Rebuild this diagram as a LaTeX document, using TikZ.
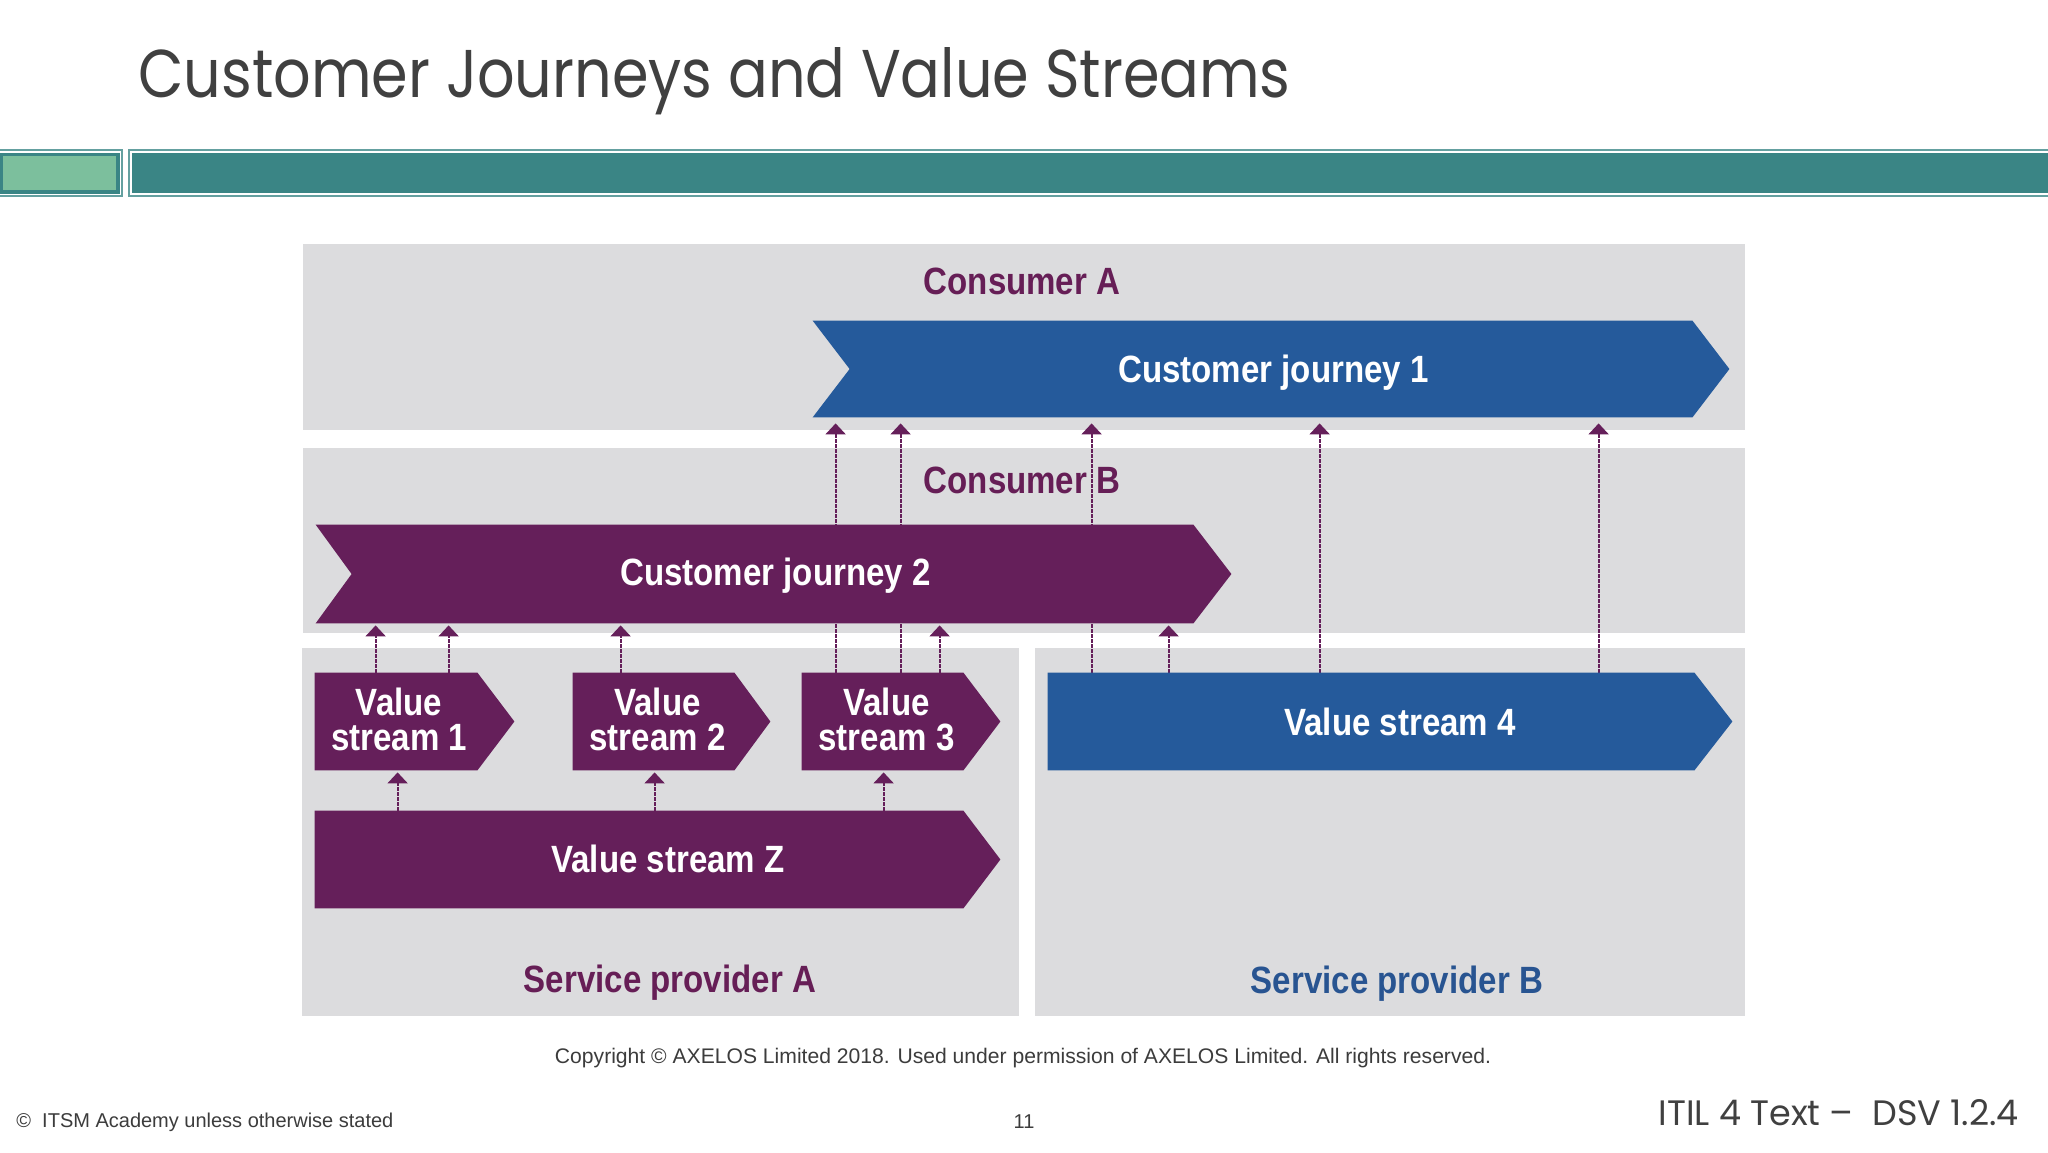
\documentclass[tikz,border=0pt]{standalone}
\usepackage{graphicx}
\usepackage{fontspec}
\setmainfont{Liberation Sans}
\newfontfamily\lblfont[FakeStretch=0.87]{Liberation Sans}
\newfontfamily\ttlfont{Poppins}
\usetikzlibrary{arrows.meta,calc}
\definecolor{teal1}{RGB}{58,133,133}
\definecolor{teal2}{RGB}{100,160,160}
\definecolor{green1}{RGB}{124,191,157}
\definecolor{panel}{RGB}{220,220,222}
\definecolor{cblue}{RGB}{37,90,155}
\definecolor{cpurp}{RGB}{101,31,90}
\definecolor{tpurp}{RGB}{102,30,86}
\definecolor{tblue}{RGB}{40,84,145}
\definecolor{ttl}{RGB}{64,64,64}
\definecolor{foot}{RGB}{60,60,60}
\pgfdeclarelayer{bg}\pgfdeclarelayer{arr}\pgfdeclarelayer{shp}
\pgfsetlayers{bg,arr,shp,main}
\begin{document}
\begin{tikzpicture}[x=0.5pt,y=-0.5pt,
  flow/.style={draw=cpurp, line width=1pt, dash pattern=on 1.6pt off 0.9pt, -{Triangle[width=10pt,length=5.5pt]}},
  body/.style={rectangle, inner sep=0pt, minimum height=48.5pt},
  panelbox/.style={rectangle, fill=panel, inner sep=0pt},
  wlbl/.style={text=white, font=\lblfont\bfseries\fontsize{19}{17.5}\selectfont, inner sep=0pt, anchor=base},
  plbl/.style={text=tpurp, font=\lblfont\bfseries\fontsize{19}{17.5}\selectfont, inner sep=0pt, anchor=base},
]
\useasboundingbox (0,0) rectangle (2048,1152);

% background and header bar
\begin{pgfonlayer}{bg}
\fill[white] (0,0) rectangle (2048,1152);
\fill[teal2] (0,149) rectangle (123,197);
\fill[white] (-2,151) rectangle (121,195);
\fill[teal1] (-2,152.5) rectangle (119.5,193.5);
\fill[green1] (3,156) rectangle (116,190);
\fill[teal2] (128,149) rectangle (2060,197);
\fill[white] (130,151) rectangle (2060,195);
\fill[teal1] (131.5,153) rectangle (2060,193);
\node[panelbox, minimum width=721pt, minimum height=93pt] (pA) at (1024,337) {};
\node[panelbox, minimum width=721pt, minimum height=92.5pt] (pB) at (1024,540.5) {};
\node[panelbox, minimum width=358.5pt, minimum height=184pt] (spA) at (660.5,832) {};
\node[panelbox, minimum width=355pt, minimum height=184pt] (spB) at (1390,832) {};
\end{pgfonlayer}

\node[anchor=base west, inner sep=0pt, text=ttl] (title) at (138,97)
  {\resizebox{576pt}{25pt}{\ttlfont Customer Journeys and Value Streams}};

% chevron bodies
\node[body, minimum width=439.5pt, minimum height=48pt] (cj1) at (1252.5,369) {};
\node[body, minimum width=438.5pt, minimum height=49pt] (cj2) at (754.5,574) {};
\node[body, minimum width=81pt] (vs1) at (396,721.5) {};
\node[body, minimum width=80.5pt] (vs2) at (653.5,721.5) {};
\node[body, minimum width=80.5pt] (vs3) at (882.5,721.5) {};
\node[body, minimum width=324pt] (vsz) at (639,859.5) {};
\node[body, minimum width=323pt] (vs4) at (1371,721.5) {};

\begin{pgfonlayer}{shp}
\fill[cblue] (cj1.north west) -- (cj1.north east) -- ($(cj1.east)+(37,0)$) -- (cj1.south east) -- (cj1.south west) -- ($(cj1.west)+(37,0)$) -- cycle;
\fill[cpurp] (cj2.north west) -- (cj2.north east) -- ($(cj2.east)+(38,0)$) -- (cj2.south east) -- (cj2.south west) -- ($(cj2.west)+(36,0)$) -- cycle;
\fill[cpurp] (vs1.north west) -- (vs1.north east) -- ($(vs1.east)+(37,0)$) -- (vs1.south east) -- (vs1.south west) -- cycle;
\fill[cpurp] (vs2.north west) -- (vs2.north east) -- ($(vs2.east)+(36,0)$) -- (vs2.south east) -- (vs2.south west) -- cycle;
\fill[cpurp] (vs3.north west) -- (vs3.north east) -- ($(vs3.east)+(37,0)$) -- (vs3.south east) -- (vs3.south west) -- cycle;
\fill[cpurp] (vsz.north west) -- (vsz.north east) -- ($(vsz.east)+(37,0)$) -- (vsz.south east) -- (vsz.south west) -- cycle;
\fill[cblue] (vs4.north west) -- (vs4.north east) -- ($(vs4.east)+(38,0)$) -- (vs4.south east) -- (vs4.south west) -- cycle;
\end{pgfonlayer}

% connectors
\begin{pgfonlayer}{arr}
\draw[flow] ($(vs3.north west)+(34,0)$) -- ($(cj1.south west)+(23,6)$);
\draw[flow] ($(vs3.north west)+(99,0)$) -- ($(cj1.south west)+(88,6)$);
\draw[flow] ($(vs4.north west)+(44,0)$) -- ($(cj1.south west)+(279,6)$);
\draw[flow] ($(vs4.north west)+(272,0)$) -- ($(cj1.south west)+(507,6)$);
\draw[flow] ($(vs4.north west)+(551,0)$) -- ($(cj1.south west)+(786,6)$);
\draw[flow] ($(vs1.north west)+(61,0)$) -- ($(cj2.south west)+(60,2)$);
\draw[flow] ($(vs1.north west)+(134,0)$) -- ($(cj2.south west)+(133,2)$);
\draw[flow] ($(vs2.north west)+(48,0)$) -- ($(cj2.south west)+(305,2)$);
\draw[flow] ($(vs3.north west)+(138,0)$) -- ($(cj2.south west)+(624,2)$);
\draw[flow] ($(vs4.north west)+(121,0)$) -- ($(cj2.south west)+(853,2)$);
\draw[flow] ($(vsz.north west)+(83,0)$) -- ($(vs1.south west)+(83,2)$);
\draw[flow] ($(vsz.north west)+(340,0)$) -- ($(vs2.south west)+(82,2)$);
\draw[flow] ($(vsz.north west)+(569,0)$) -- ($(vs3.south west)+(82,2)$);
\end{pgfonlayer}

% labels
\node[wlbl] (cj1t) at ($(cj1)+(21,13)$) {Customer journey 1};
\node[wlbl] (cj2t) at ($(cj2)+(21,11)$) {Customer journey 2};
\node[wlbl] (vs4t) at ($(vs4)+(29,13.5)$) {Value stream 4};
\node[wlbl] (vszt) at ($(vsz)+(29,12.5)$) {Value stream Z};
\node[wlbl, anchor=center, align=center] (vs1t) at ($(vs1)+(3,-2.5)$) {Value\\stream 1};
\node[wlbl, anchor=center, align=center] (vs2t) at ($(vs2)+(4,-2.5)$) {Value\\stream 2};
\node[wlbl, anchor=center, align=center] (vs3t) at ($(vs3)+(4,-2.5)$) {Value\\stream 3};

\node[plbl] (pAt) at (1022,294) {Consumer A};
\node[plbl] (pBt) at (1022,493) {Consumer B};
\node[plbl] (spAt) at (670,992) {Service provider A};
\node[plbl, text=tblue] (spBt) at (1397,993) {Service provider B};

% footer
\node[text=foot, inner sep=0pt] (copy) at (1023,1058)
  {\resizebox{468pt}{!}{Copyright © AXELOS Limited 2018. Used under permission of AXELOS Limited. All rights reserved.}};
\node[text=foot, inner sep=0pt, anchor=west] (itsm) at (16,1122)
  {\resizebox{188.5pt}{!}{©\ \ ITSM Academy unless otherwise stated}};
\node[text=foot, inner sep=0pt, font=\fontsize{10}{12}\selectfont] (page) at (1024,1122) {11};
\node[text=ttl, inner sep=0pt, anchor=base east] (ver) at (2019,1125)
  {\resizebox{180pt}{13pt}{\ttlfont ITIL 4 Text –\ \ DSV 1.2.4}};
\end{tikzpicture}
\end{document}
